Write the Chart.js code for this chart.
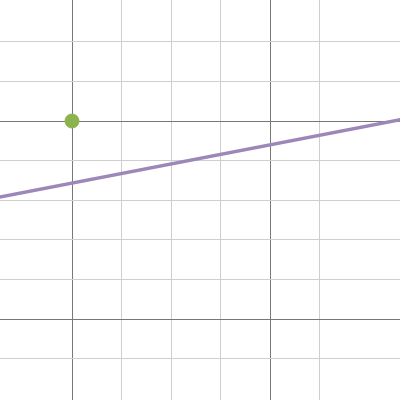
<!DOCTYPE html>
<html>
<head>
<style>
  html, body { margin: 0; padding: 0; background: #fff; }
  #wrap { width: 400px; height: 400px; overflow: hidden; position: relative; }
  #myChart { position: absolute; left: -8px; top: -8px; }
</style>
<script src="https://cdn.jsdelivr.net/npm/chart.js@4"></script>
</head>
<body>
<div id="wrap"><canvas id="myChart" width="416" height="416"></canvas></div>
<script>
// axis window (graph units)
const xRange = [-1.4545, 6.626];
const yRange = [-2.045, 8.056];
const xMajorEvery = 4;
const yMajorEvery = 5;

// line and point
const lineX = [-2, 7];
const lineY = [2.95, 5.12];
const pointX = [0];
const pointY = [5];

function gridColor(every) {
  return ctx => {
    const v = ctx.tick.value;
    if (Math.abs(v - Math.round(v)) > 1e-6) return 'transparent';
    return Math.round(v) % every === 0 ? '#777777' : '#cfcfcf';
  };
}

const ctx = document.getElementById('myChart').getContext('2d');
new Chart(ctx, {
  type: 'scatter',
  data: {
    datasets: [
      {
        type: 'line',
        data: lineX.map((x, i) => ({ x, y: lineY[i] })),
        borderColor: '#9d87b9',
        borderWidth: 3.5,
        pointRadius: 0,
        order: 2
      },
      {
        data: pointX.map((x, i) => ({ x, y: pointY[i] })),
        backgroundColor: '#8cb44c',
        borderColor: '#8cb44c',
        pointRadius: 7,
        order: 1
      }
    ]
  },
  options: {
    responsive: false,
    animation: false,
    layout: { padding: 0 },
    plugins: { legend: { display: false }, tooltip: { enabled: false } },
    scales: {
      x: {
        type: 'linear',
        min: xRange[0], max: xRange[1],
        ticks: { display: false, stepSize: 1 },
        grid: { color: gridColor(xMajorEvery), drawTicks: false, lineWidth: 1 },
        border: { display: false }
      },
      y: {
        type: 'linear',
        min: yRange[0], max: yRange[1],
        ticks: { display: false, stepSize: 1 },
        grid: { color: gridColor(yMajorEvery), drawTicks: false, lineWidth: 1 },
        border: { display: false }
      }
    }
  }
});
</script>
</body>
</html>
